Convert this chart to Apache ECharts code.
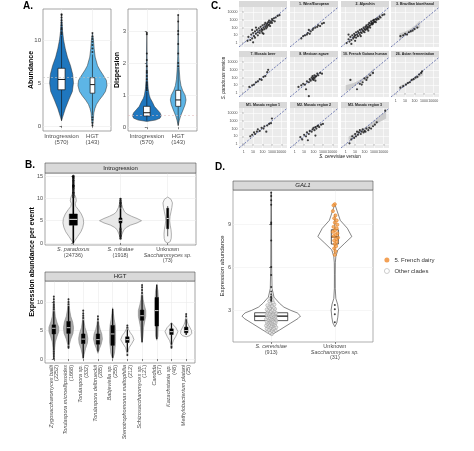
<!DOCTYPE html>
<html>
<head>
<meta charset="utf-8">
<script src="https://cdn.jsdelivr.net/npm/echarts@6.0.0/dist/echarts.min.js"></script>
<style>html,body{margin:0;padding:0;background:#ffffff;}#chart{width:474px;height:451px;}</style>
</head>
<body>
<div id="chart"></div>
<script>
// ================= DATA =================
// ---- Panel A ----
const aCats = ['Introgression\n(570)', 'HGT\n(143)'];
const aAbIntroY = [0.6, 1, 2, 3, 4, 5, 6, 7, 8, 9, 10, 11, 12, 13];
const aAbIntroW = [0, 0.033, 0.12, 0.23, 0.35, 0.385, 0.36, 0.29, 0.19, 0.12, 0.066, 0.033, 0.017, 0];
const aAbIntroBox = [0.6, 4.2, 5.4, 6.7, 10.5];
const aAbIntroOut = [10.7, 10.9, 11.2, 11.4, 11.7, 12.0, 12.3, 12.6, 12.9, 13.0];
const aAbHgtY = [0, 0.5, 1.5, 2, 2.5, 3, 3.5, 4, 4.7, 5.3, 6, 6.5, 7, 8, 9, 10, 10.8];
const aAbHgtW = [0, 0.022, 0.044, 0.077, 0.13, 0.22, 0.33, 0.42, 0.47, 0.45, 0.33, 0.24, 0.165, 0.088, 0.055, 0.033, 0];
const aAbHgtBox = [1.2, 3.8, 4.8, 5.6, 8.3];
const aAbHgtOut = [0.05, 0.35, 0.7, 1.0, 8.6, 9.0, 9.4, 9.8, 10.1, 10.4, 10.8];
const aAbRef = 5.7;
const aAbTicks = [0, 5, 10];
const aDiIntroY = [0.18, 0.22, 0.28, 0.36, 0.45, 0.55, 0.65, 0.78, 0.9, 1.0, 1.2, 1.5, 2.0, 2.95];
const aDiIntroW = [0, 0.275, 0.42, 0.46, 0.42, 0.33, 0.24, 0.18, 0.11, 0.077, 0.044, 0.022, 0.011, 0];
const aDiIntroBox = [0.2, 0.35, 0.45, 0.65, 1.1];
const aDiIntroOut = [1.15, 1.2, 1.25, 1.3, 1.35, 1.4, 1.5, 1.6, 1.7, 1.75, 1.9, 2.1, 2.3, 2.9, 2.95];
const aDiHgtY = [0.05, 0.2, 0.35, 0.5, 0.7, 0.85, 1.0, 1.15, 1.3, 1.5, 1.8, 2.2, 3.5];
const aDiHgtW = [0, 0.033, 0.077, 0.14, 0.22, 0.25, 0.22, 0.14, 0.088, 0.055, 0.033, 0.017, 0];
const aDiHgtBox = [0.05, 0.65, 0.85, 1.15, 1.85];
const aDiHgtOut = [1.9, 2.0, 2.3, 2.6, 2.9, 3.0, 3.3, 3.5];
const aDiRef = 0.37;
const aDiTicks = [0, 1, 2, 3];

// ---- Panel B (Introgression facet) ----
const bCats = ['{i|S. paradoxus}\n(24736)', '{i|S. mikatae}\n(1918)', 'Unknown\n{i|Saccharomyces sp.}\n(73)'];
const bParY = [0, 0.5, 1.5, 2.5, 3.5, 4.5, 5.5, 6.5, 7.5, 8.2, 8.8, 9.5, 10.2, 11, 12, 13.5, 15];
const bParW = [0, 0.032, 0.095, 0.16, 0.2, 0.22, 0.21, 0.17, 0.106, 0.053, 0.042, 0.064, 0.053, 0.021, 0.013, 0.008, 0];
const bParBox = [0, 4.0, 5.3, 6.5, 10.2];
const bParOut = [10.3, 10.7, 11.1, 11.4, 11.9, 12.3, 12.6, 12.8, 12.95, 13.3, 13.7, 14.1, 14.5, 14.8, 15.0];
const bMikY = [1, 2, 3, 3.5, 4, 4.5, 5, 5.5, 6, 6.5, 7, 8, 9, 10];
const bMikW = [0, 0.032, 0.074, 0.127, 0.21, 0.35, 0.445, 0.35, 0.233, 0.138, 0.085, 0.042, 0.016, 0];
const bMikBox = [3.3, 4.5, 5.1, 5.6, 7.8];
const bMikOut = [1.0, 1.4, 1.7, 2.0, 2.3, 2.6, 2.9, 3.2, 8.1, 8.4, 8.8, 9.1, 9.5, 9.9];
const bUnkY = [0, 0.3, 1, 2, 3, 4, 5, 6, 7, 8, 9, 9.8, 10.3];
const bUnkW = [0, 0.053, 0.074, 0.078, 0.07, 0.053, 0.042, 0.05, 0.07, 0.089, 0.1, 0.07, 0];
const bUnkBox = [1.5, 3.2, 5.5, 7.8, 8.3];
const bTicks = [0, 5, 10, 15];

// ---- Panel B (HGT facet) ----
const hCats = [
  '{i|Zygosaccharomyces bailii}\n(2252)', '{i|Torulaspora microellipsoides}\n(1668)', '{i|Torulaspora sp.}\n(332)',
  '{i|Torulaspora delbrueckii}\n(285)', '{i|Babjeviella sp.}\n(255)', '{i|Stenotrophomonas maltophilia}\n(212)',
  '{i|Schizosaccharomyces sp.}\n(121)', '{i|Candida}\n(57)', '{i|Kazachstania sp.}\n(48)', '{i|Methylobacterium platani}\n(25)'
];
const hY = [
  [0, 1, 2, 3, 4, 4.8, 5.6, 6.5, 7.5, 8.5, 9.5, 11],
  [1.8, 2.5, 3.5, 4.5, 5.5, 6.5, 7.5, 8.5, 9.5, 10.6],
  [0, 0.8, 1.8, 2.8, 3.6, 4.5, 5.5, 6.5, 7.5, 8.6],
  [1, 1.8, 2.6, 3.5, 4.4, 5.2, 6, 7.5],
  [0, 1, 2, 3, 4, 5, 6, 7, 8, 9],
  [0.5, 1.2, 2, 2.7, 3.4, 4.1, 4.7, 5.3, 6],
  [2.8, 4, 5.5, 6.5, 7.5, 8.5, 9.5, 10.5, 11.5, 13],
  [3.3, 4, 6, 8, 10, 12, 13],
  [1.9, 2.5, 3.2, 4, 4.8, 5.5, 6, 6.4],
  [3.9, 4.1, 4.5, 5, 5.5, 6, 6.5, 7.2, 7.9]
];
const hW = [
  [0, 0.04, 0.06, 0.1, 0.22, 0.33, 0.33, 0.2, 0.1, 0.06, 0.04, 0],
  [0, 0.05, 0.15, 0.3, 0.34, 0.28, 0.15, 0.08, 0.04, 0],
  [0, 0.06, 0.15, 0.28, 0.31, 0.25, 0.12, 0.06, 0.03, 0],
  [0, 0.1, 0.22, 0.3, 0.26, 0.15, 0.07, 0],
  [0, 0.12, 0.16, 0.2, 0.2, 0.2, 0.17, 0.1, 0.05, 0],
  [0, 0.04, 0.12, 0.3, 0.45, 0.35, 0.18, 0.06, 0],
  [0, 0.06, 0.1, 0.17, 0.25, 0.25, 0.15, 0.07, 0.04, 0],
  [0, 0.08, 0.1, 0.12, 0.12, 0.08, 0],
  [0, 0.04, 0.12, 0.3, 0.44, 0.3, 0.12, 0],
  [0, 0.25, 0.38, 0.36, 0.26, 0.15, 0.08, 0.04, 0]
];
const hBox = [
  [1.5, 4.4, 5.4, 6.0, 8.4], [2.5, 4.5, 5.5, 6.6, 9.3], [0.2, 2.7, 3.5, 4.4, 6.8], [1.3, 2.6, 3.4, 4.4, 6.6],
  [0.2, 2.4, 4.4, 5.9, 8.8], [1.2, 2.9, 3.4, 3.9, 5.2], [3.0, 6.8, 7.6, 8.6, 11.2], [3.5, 5.8, 8.5, 10.8, 13.1],
  [2.5, 4.3, 4.8, 5.3, 6.3], [4.2, 4.6, 5.0, 5.6, 7.0]
];
const hOut = [
  [0.1, 0.4, 0.7, 1.0, 1.3, 8.7, 9.0, 9.3, 9.6, 10.0, 10.5, 11.0],
  [2.0, 2.2, 9.6, 10.0, 10.5],
  [7.2, 7.6, 8.0, 8.5],
  [7.0, 7.5],
  [],
  [0.7, 5.5, 5.9],
  [11.6, 12.1, 12.6, 13.0],
  [],
  [2.0, 2.2],
  [7.5, 7.9]
];
const hTicks = [0, 5, 10];

// ---- Panel C ----
const cTitles = ['', '1. Wine/European', '2. Alpechin', '3. Brazilian bioethanol', '7. Mosaic beer', '8. Mexican agave',
  '10. French Guiana human', '26. Asian fermentation', 'M1. Mosaic region 1', 'M2. Mosaic region 2', 'M3. Mosaic region 3'];
const cTickExp = [0, 1, 2, 3, 4];          // log10 of tick values
const cTickLabels = ['1', '10', '100', '1000', '10000'];
// points as [log10 S. cerevisiae version, log10 S. paradoxus version]
const cAll = [[0.4,0.3],[0.5,0.8],[0.7,0.4],[0.8,1.1],[0.9,0.6],[1.0,1.3],[1.1,0.9],[1.2,1.5],[1.2,0.7],[1.3,1.2],[1.3,2.0],[1.4,1.7],[1.5,1.0],[1.5,1.4],[1.6,1.9],[1.7,1.3],[1.7,1.6],[1.8,2.1],[1.9,1.5],[1.9,1.8],[2.0,2.3],[2.0,1.7],[2.1,2.0],[2.1,1.2],[2.2,2.4],[2.2,1.8],[2.3,2.1],[2.3,2.6],[2.4,2.3],[2.4,1.9],[2.5,2.5],[2.5,2.1],[2.6,2.7],[2.6,2.3],[2.7,2.9],[2.7,2.4],[2.8,2.6],[2.8,2.2],[2.9,2.8],[3.0,3.1],[3.0,2.6],[3.1,2.9],[3.2,3.2],[3.3,2.8],[3.4,3.3],[3.6,3.5],[3.8,3.6],[0.9,1.7],[1.0,0.1],[2.0,1.3]];
const cWine = [[0.7,0.6],[0.9,0.9],[1.1,1.0],[1.3,1.1],[1.4,1.3],[1.5,1.7],[1.7,1.5],[1.9,1.7],[2.0,1.9],[2.2,2.0],[2.4,2.1],[2.5,2.3],[2.7,2.2],[2.9,2.5],[3.1,2.6],[1.6,1.2]];
const cAlpechin = [[0.1,0.0],[0.3,0.5],[0.4,0.2],[0.5,0.8],[0.6,0.4],[0.7,1.0],[0.8,0.6],[0.9,1.2],[0.9,0.8],[1.0,1.0],[1.1,1.4],[1.1,0.7],[1.2,1.1],[1.3,1.5],[1.3,0.9],[1.4,1.3],[1.5,1.7],[1.5,1.1],[1.6,1.4],[1.7,1.8],[1.7,1.3],[1.8,1.6],[1.9,2.0],[1.9,1.5],[2.0,1.8],[2.0,1.4],[2.1,2.1],[2.1,1.7],[2.2,1.9],[2.2,2.3],[2.3,1.8],[2.3,2.1],[2.4,2.4],[2.4,2.0],[2.5,2.2],[2.5,2.6],[2.6,2.3],[2.6,2.0],[2.7,2.5],[2.7,2.8],[2.8,2.4],[2.8,2.6],[2.9,2.9],[2.9,2.5],[3.0,2.7],[3.0,3.0],[3.1,2.8],[3.2,3.1],[3.2,2.7],[3.3,3.0],[3.4,3.2],[3.5,3.1],[3.6,3.4],[3.7,3.3],[3.9,3.6],[4.1,3.7],[0.6,-0.1],[1.0,0.3],[1.6,0.9],[0.3,1.1],[2.4,1.6]];
const cBrazil = [[0.5,0.9],[0.8,1.0],[1.0,1.2],[1.2,1.1],[1.4,1.4],[1.6,1.5],[1.8,1.6],[2.0,1.8],[2.3,2.0]];
const cBeer = [[0.6,0.8],[0.9,1.0],[1.1,1.1],[1.3,1.4],[1.5,1.5],[1.7,1.8],[1.9,1.7],[2.1,2.1],[2.3,2.2],[2.5,2.7],[2.6,3.0]];
const cAgave = [[0.4,0.8],[0.7,1.0],[0.9,1.2],[1.1,1.1],[1.3,1.5],[1.5,1.4],[1.6,1.8],[1.7,1.6],[1.8,2.0],[1.9,1.8],[1.9,2.2],[2.0,1.7],[2.0,2.0],[2.1,2.3],[2.1,1.9],[2.2,2.1],[2.2,1.6],[2.3,2.2],[2.4,2.5],[2.5,2.3],[2.7,2.6],[2.9,2.5],[1.5,-0.4],[1.2,0.5]];
const cGuiana = [[0.5,1.7],[1.2,0.5],[1.5,1.2],[1.8,1.4],[2.0,1.9],[2.3,2.0],[2.6,2.3],[2.9,2.6],[1.7,1.1],[2.2,1.7]];
const cAsian = [[0.5,0.7],[0.8,0.9],[1.1,1.1],[1.3,1.3],[1.5,1.4],[1.7,1.7],[1.9,1.8],[2.1,2.0],[2.3,2.1],[2.5,2.4],[2.7,2.6],[2.8,2.8]];
const cM1 = [[0.7,1.0],[0.9,1.2],[1.1,1.5],[1.2,1.3],[1.4,1.6],[1.5,1.9],[1.7,1.7],[1.9,2.1],[2.1,2.0],[2.2,2.3],[2.4,1.6],[2.5,2.4],[2.7,2.6],[2.9,2.7],[3.0,3.3]];
const cM2 = [[0.6,0.9],[0.8,0.6],[1.0,1.2],[1.2,1.0],[1.3,1.5],[1.5,1.3],[1.6,1.7],[1.8,1.6],[1.9,1.9],[2.0,2.1],[2.1,1.8],[2.2,2.2],[2.3,2.0],[2.4,2.3],[2.5,2.4],[2.6,2.2],[2.8,2.5],[3.0,2.6],[1.4,0.5],[2.2,1.1]];
const cM3 = [[0.4,0.1],[0.6,0.6],[0.7,1.0],[0.9,0.8],[1.0,1.3],[1.1,1.0],[1.2,1.6],[1.3,1.2],[1.4,1.5],[1.5,1.8],[1.6,1.3],[1.7,1.6],[1.8,1.9],[1.9,1.5],[2.0,1.7],[2.1,1.6],[2.2,2.0],[2.4,1.8],[2.5,2.1],[2.7,2.0],[2.9,2.3],[3.1,2.5],[3.3,2.8],[4.2,4.3]];
// smoothing confidence bands [x, lower, upper]
const cBrazilBX = [0.4, 1.0, 1.5, 2.0, 2.6], cBrazilLo = [0.35, 1.0, 1.42, 1.75, 2.0], cBrazilHi = [1.25, 1.5, 1.78, 2.25, 2.9];
const cGuianaBX = [0.0, 0.9, 2.0, 3.0], cGuianaLo = [0.2, 0.85, 1.65, 2.5], cGuianaHi = [1.0, 1.35, 2.0, 3.2];
const cAsianBX = [0.4, 1.5, 2.9], cAsianLo = [0.5, 1.35, 2.3], cAsianHi = [0.9, 1.6, 2.9];
const cM3BX = [0.3, 1.5, 2.5, 4.3], cM3Lo = [0.5, 1.5, 2.1, 3.3], cM3Hi = [0.95, 1.75, 2.5, 4.3];

// ---- Panel D ----
const dCats = ['{i|S. cerevisiae}\n(913)', 'Unknown\n{i|Saccharomyces sp.}\n(31)'];
const dCerY = [1.26, 1.6, 2.07, 2.4, 2.58, 2.8, 2.97, 3.2, 3.47, 3.9, 4.5, 6, 9, 11.2];
const dCerW = [0, 0.13, 0.3, 0.42, 0.46, 0.41, 0.31, 0.2, 0.13, 0.044, 0.014, 0.007, 0.005, 0];
const dCerBox = [1.5, 2.26, 2.58, 2.81, 3.6];
const dCerOut = [11.2, 10.95, 10.65, 10.35, 9.1, 9.0, 7.85, 6.0, 5.45, 4.6, 4.3, 4.1, 3.95, 3.85, 3.75, 3.65];
const dUnkY = [1.84, 2.1, 2.5, 3.0, 3.4, 3.8, 4.5, 5.5, 6.3, 6.72, 7.19, 7.66, 8.12, 8.7, 9.25, 9.97, 10.38];
const dUnkW = [0, 0.031, 0.047, 0.058, 0.044, 0.016, 0.007, 0.006, 0.008, 0.016, 0.047, 0.157, 0.267, 0.197, 0.086, 0.031, 0];
const dUnkBox = [6.9, 7.6, 8.1, 8.6, 9.7];
const dUnkOut = [3.35, 3.05, 2.7, 2.15];
// Other clades jitter points in S. cerevisiae: values and horizontal jitter (category units)
const dOtherY = [1.32,1.42,1.48,1.51,1.55,1.58,1.62,1.66,1.7,1.73,1.77,1.8,1.84,1.87,1.9,1.91,1.94,1.97,2.01,2.04,2.05,2.07,2.1,2.13,2.15,2.16,2.19,2.22,2.25,2.28,2.3,2.31,2.34,2.35,2.37,2.4,2.43,2.45,2.46,2.49,2.5,2.52,2.55,2.58,2.6,2.61,2.64,2.67,2.7,2.73,2.75,2.76,2.79,2.82,2.85,2.88,2.9,2.92,2.96,3.0,3.04,3.08,3.12,3.17,3.22,3.27,3.33,3.39,3.46,3.53,3.61,3.7,3.8,3.92];
const dOtherJ = [0.01,-0.02,0.04,-0.06,0.01,0.07,-0.04,0.03,-0.07,0.05,-0.01,0.08,-0.05,0.02,0.0,-0.08,0.06,-0.03,0.04,-0.06,0.02,0.0,0.07,-0.04,-0.01,0.05,-0.07,0.02,-0.02,0.08,-0.02,-0.05,0.03,0.0,-0.08,0.06,-0.01,-0.03,0.05,-0.06,0.03,0.01,0.07,-0.03,0.0,0.04,-0.07,0.02,-0.04,0.06,0.03,-0.02,0.08,-0.06,0.03,-0.01,0.0,0.05,-0.05,0.02,-0.07,0.06,-0.02,0.04,-0.04,0.01,-0.06,0.05,-0.01,0.03,-0.03,0.02,-0.01,0.01];
// 5. French dairy jitter points in Unknown Saccharomyces sp.
const dFrenchY = [10.38,10.3,9.9,9.6,9.4,9.25,9.1,8.95,8.8,8.7,8.55,8.45,8.35,8.25,8.15,8.05,7.95,7.85,7.75,7.6,7.45,7.3,7.1,6.85];
const dFrenchJ = [0.0,-0.02,-0.03,0.01,-0.01,0.03,0.0,0.04,-0.02,0.03,0.0,-0.03,0.04,0.01,-0.02,0.05,0.02,-0.01,0.03,0.0,0.02,-0.01,0.01,0.0];
const dTicks = [3, 6, 9];

// ================= BUILD =================
const FONT = '"Liberation Sans", Arial, Helvetica, sans-serif';
const TXT = '#4d4d4d';
const grids = [], xAxes = [], yAxes = [], series = [], graphics = [];

function addGrid(g) {
  grids.push(Object.assign({show: true, borderColor: '#808080', borderWidth: 0.7, backgroundColor: 'transparent', outerBoundsMode: 'none'}, g));
  return grids.length - 1;
}
function catXAxis(gi, cats, fs, extraLabel) {
  const idx = cats.map((c, i) => i);
  return {
    type: 'value', gridIndex: gi, min: -0.6, max: cats.length - 0.4, splitNumber: cats.length,
    axisLine: {show: false},
    axisTick: {show: true, length: 2, customValues: idx, lineStyle: {color: '#333', width: 0.6}},
    axisLabel: Object.assign({customValues: idx, formatter: v => cats[Math.round(v)], fontSize: fs, lineHeight: fs, color: TXT, fontFamily: FONT, margin: 2,
      rich: {i: {fontStyle: 'italic', fontSize: fs, lineHeight: fs, color: TXT, fontFamily: FONT}}}, extraLabel || {}),
    splitLine: {show: true, lineStyle: {color: '#ebebeb', width: 0.6}}
  };
}
function valYAxis(gi, min, max, ticks, fs) {
  return {
    type: 'value', gridIndex: gi, min: min, max: max, splitNumber: 3,
    axisLine: {show: false},
    axisTick: {show: true, length: 2, customValues: ticks, lineStyle: {color: '#333', width: 0.6}},
    axisLabel: {customValues: ticks, fontSize: fs, color: TXT, fontFamily: FONT, margin: 2},
    splitLine: {show: true, lineStyle: {color: '#ebebeb', width: 0.6}}
  };
}
function violins(gi, defs) {
  series.push({
    type: 'custom', xAxisIndex: gi, yAxisIndex: gi, z: 2, silent: true,
    data: defs.map(d => [d.cat, d.ys[0], d.ys[d.ys.length - 1]]),
    renderItem: function (params, api) {
      const d = defs[params.dataIndex];
      const unit = api.size([1, 0])[0];
      const L = [], R = [];
      for (let i = 0; i < d.ys.length; i++) {
        const p = api.coord([d.cat, d.ys[i]]);
        R.push([p[0] + d.ws[i] * unit, p[1]]);
        L.push([p[0] - d.ws[i] * unit, p[1]]);
      }
      const st = d.st;
      const kids = [{type: 'polygon', shape: {points: R.concat(L.reverse())}, style: {fill: st.fill, stroke: st.stroke, lineWidth: st.lw}}];
      if (d.box) {
        const yy = d.box.map(v => api.coord([d.cat, v])[1]);
        const x = api.coord([d.cat, d.box[2]])[0];
        const hw = d.bw * unit / 2;
        kids.push({type: 'line', shape: {x1: x, y1: yy[0], x2: x, y2: yy[1]}, style: {stroke: st.wk, lineWidth: st.wlw}});
        kids.push({type: 'line', shape: {x1: x, y1: yy[3], x2: x, y2: yy[4]}, style: {stroke: st.wk, lineWidth: st.wlw}});
        kids.push({type: 'rect', shape: {x: x - hw, y: yy[3], width: 2 * hw, height: yy[1] - yy[3]}, style: {fill: st.bf, stroke: st.bs, lineWidth: st.blw}});
        kids.push({type: 'line', shape: {x1: x - hw, y1: yy[2], x2: x + hw, y2: yy[2]}, style: {stroke: st.med, lineWidth: st.mlw}});
      }
      return {type: 'group', children: kids};
    }
  });
}
function outliers(gi, cat, ys, size, color, z) {
  if (!ys.length) return;
  series.push({type: 'scatter', xAxisIndex: gi, yAxisIndex: gi, z: z || 4, silent: true, symbolSize: size,
    itemStyle: {color: color}, data: ys.map(y => [cat, y])});
}
function refLine(gi, y, color) {
  series.push({type: 'line', xAxisIndex: gi, yAxisIndex: gi, z: 1, silent: true, data: [],
    markLine: {silent: true, symbol: 'none', label: {show: false}, animation: false,
      lineStyle: {color: color, width: 0.6, type: [2, 2]}, data: [{yAxis: y}]}});
}
function txt(text, x, y, s, rot) {
  return {type: 'text', x: x, y: y, rotation: rot || 0, silent: true, z: 10,
    style: Object.assign({text: text, fontFamily: FONT, fontSize: 6, fill: '#1a1a1a', align: 'center', verticalAlign: 'middle'}, s || {})};
}
function box(x, y, w, h, fill, stroke, lw) {
  return {type: 'rect', silent: true, z: 9, shape: {x: x, y: y, width: w, height: h}, style: {fill: fill, stroke: stroke || null, lineWidth: lw || 0}};
}

// ---- Panel A left: Abundance ----
const stA = (fill) => ({fill: fill, stroke: '#2a2a2a', lw: 0.5, wk: '#111', wlw: 0.6, bf: '#ffffff', bs: '#111', blw: 0.7, med: '#111', mlw: 1});
let g = addGrid({left: 43, top: 9, width: 68, height: 122});
xAxes.push(catXAxis(g, aCats, 6));
yAxes.push(valYAxis(g, -0.6, 13.6, aAbTicks, 6));
refLine(g, aAbRef, '#bdbdbd');
violins(g, [
  {cat: 0, ys: aAbIntroY, ws: aAbIntroW, box: aAbIntroBox, bw: 0.23, st: stA('#1f77bf')},
  {cat: 1, ys: aAbHgtY, ws: aAbHgtW, box: aAbHgtBox, bw: 0.15, st: stA('#5db5e6')}
]);
outliers(g, 0, aAbIntroOut, 2, '#111');
outliers(g, 1, aAbHgtOut, 2, '#111');

// ---- Panel A right: Dispersion ----
g = addGrid({left: 128, top: 9, width: 69, height: 122});
xAxes.push(catXAxis(g, aCats, 6));
yAxes.push(valYAxis(g, -0.12, 3.69, aDiTicks, 6));
refLine(g, aDiRef, '#e0bcbc');
violins(g, [
  {cat: 0, ys: aDiIntroY, ws: aDiIntroW, box: aDiIntroBox, bw: 0.21, st: stA('#1f77bf')},
  {cat: 1, ys: aDiHgtY, ws: aDiHgtW, box: aDiHgtBox, bw: 0.16, st: stA('#5db5e6')}
]);
outliers(g, 0, aDiIntroOut, 2, '#111');
outliers(g, 1, aDiHgtOut, 2, '#111');

// ---- Panel B top: Introgression ----
const stB = (fill) => ({fill: fill, stroke: '#8c8c8c', lw: 0.7, wk: '#000', wlw: 1.6, bf: '#000', bs: '#000', blw: 0.5, med: '#ffffff', mlw: 0.9});
g = addGrid({left: 45, top: 173, width: 151, height: 72});
xAxes.push(catXAxis(g, bCats, 5.5));
yAxes.push(valYAxis(g, -0.45, 15.7, bTicks, 5.5));
violins(g, [
  {cat: 0, ys: bParY, ws: bParW, box: bParBox, bw: 0.17, st: stB('#ececec')},
  {cat: 1, ys: bMikY, ws: bMikW, box: bMikBox, bw: 0.064, st: stB('#e8e8e8')},
  {cat: 2, ys: bUnkY, ws: bUnkW, box: bUnkBox, bw: 0.042, st: Object.assign(stB('#f7f7f7'), {wlw: 0.6})}
]);
outliers(g, 0, bParOut, 2.6, '#000');
outliers(g, 1, bMikOut, 2.4, '#000');

// ---- Panel B bottom: HGT ----
g = addGrid({left: 45, top: 281, width: 150, height: 82});
xAxes.push(catXAxis(g, hCats, 5.5, {rotate: 90}));
yAxes.push(valYAxis(g, -0.7, 13.7, hTicks, 5.5));
const hFill = ['#a9a9a9', '#a9a9a9', '#b3b3b3', '#b3b3b3', '#b3b3b3', '#f7f7f7', '#ababab', '#ababab', '#f7f7f7', '#f7f7f7'];
violins(g, hY.map((ys, i) => ({cat: i, ys: ys, ws: hW[i], box: hBox[i], bw: 0.24,
  st: {fill: hFill[i], stroke: '#8c8c8c', lw: 0.7, wk: '#111', wlw: 1.3, bf: '#000', bs: '#000', blw: 0.5, med: '#ffffff', mlw: 0.8}})));
hOut.forEach((o, i) => outliers(g, i, o, 2, '#111'));

// ---- Panel D: GAL1 ----
g = addGrid({left: 233, top: 190, width: 140, height: 152, borderColor: '#8c8c8c'});
xAxes.push(catXAxis(g, dCats, 5.5));
yAxes.push(valYAxis(g, 0.77, 11.37, dTicks, 5.5));
yAxes[yAxes.length - 1].splitLine.lineStyle.color = '#f0f0f0';
xAxes[xAxes.length - 1].splitLine.lineStyle.color = '#f0f0f0';
const stD = {fill: '#ffffff', stroke: '#333', lw: 0.6, wk: '#111', wlw: 0.6, bf: '#ffffff', bs: '#111', blw: 0.7, med: '#111', mlw: 1.2};
violins(g, [
  {cat: 0, ys: dCerY, ws: dCerW, box: dCerBox, bw: 0.52, st: stD},
  {cat: 1, ys: dUnkY, ws: dUnkW, box: dUnkBox, bw: 0.11, st: stD}
]);
series.push({name: 'Other clades', type: 'scatter', xAxisIndex: g, yAxisIndex: g, z: 3, silent: true, symbolSize: 3.2,
  itemStyle: {color: '#e2e2e2', borderColor: '#8a8a8a', borderWidth: 0.5},
  data: dOtherY.map((y, i) => [0 + dOtherJ[i], y])});
series.push({name: '5. French dairy', type: 'scatter', xAxisIndex: g, yAxisIndex: g, z: 4, silent: true, symbolSize: 3.2,
  itemStyle: {color: '#f6a04d', borderColor: '#e07a18', borderWidth: 0.6},
  data: dFrenchY.map((y, i) => [1 + dFrenchJ[i], y])});
outliers(g, 0, dCerOut, 2, '#111', 5);
outliers(g, 1, dUnkOut, 2, '#111', 5);

// ---- Panel C: facets ----
const cLefts = [239, 290, 341, 391], cTops = [7, 57, 108], cW = 48, cH = 40;
const cPts = [cAll, cWine, cAlpechin, cBrazil, cBeer, cAgave, cGuiana, cAsian, cM1, cM2, cM3];
const cBands = {3: [cBrazilBX, cBrazilLo, cBrazilHi], 6: [cGuianaBX, cGuianaLo, cGuianaHi], 7: [cAsianBX, cAsianLo, cAsianHi], 10: [cM3BX, cM3Lo, cM3Hi]};
function logAxis(gi, min, max, show) {
  return {type: 'value', gridIndex: gi, min: min, max: max, splitNumber: 5,
    axisLine: {show: false},
    axisTick: {show: show, length: 1.5, customValues: cTickExp, lineStyle: {color: '#333', width: 0.4}},
    axisLabel: {show: show, customValues: cTickExp, formatter: v => cTickLabels[cTickExp.indexOf(Math.round(v))],
      fontSize: 3.6, color: TXT, fontFamily: FONT, margin: 1.5},
    splitLine: {show: true, lineStyle: {color: '#ffffff', width: 0.6}}};
}
cPts.forEach((pts, i) => {
  const col = i % 4, row = Math.floor(i / 4);
  const gi = addGrid({left: cLefts[col], top: cTops[row], width: cW, height: cH, backgroundColor: '#ebebeb', borderWidth: 0});
  const showY = col === 0, showX = row === 2 || (row === 1 && col === 3);
  xAxes.push(logAxis(gi, -0.5, 4.6, showX));
  yAxes.push(logAxis(gi, -0.5, 4.65, showY));
  const bd = cBands[i];
  if (bd) {
    series.push({type: 'custom', xAxisIndex: gi, yAxisIndex: gi, z: 2, silent: true, data: [[bd[0][0], bd[1][0]]],
      renderItem: function (p, api) {
        const up = bd[0].map((x, k) => api.coord([x, bd[2][k]]));
        const dn = bd[0].map((x, k) => api.coord([x, bd[1][k]])).reverse();
        return {type: 'polygon', shape: {points: up.concat(dn)}, style: {fill: '#c6c6c6', opacity: 0.85}};
      }});
  }
  series.push({type: 'line', xAxisIndex: gi, yAxisIndex: gi, z: 3, silent: true, symbol: 'none',
    lineStyle: {color: '#3b4a9a', width: 0.7, type: [2, 1.5]}, data: [[-0.5, -0.5], [4.6, 4.6]]});
  series.push({type: 'scatter', xAxisIndex: gi, yAxisIndex: gi, z: 4, silent: true, symbolSize: 2.2,
    itemStyle: {color: '#111'}, data: pts});
  graphics.push(box(cLefts[col], cTops[row] - 6, cW, 6, '#d9d9d9'));
  if (cTitles[i]) graphics.push(txt(cTitles[i], cLefts[col] + cW / 2, cTops[row] - 3, {fontSize: 3.6, fontWeight: 'bold', fill: '#1a1a1a'}));
});

// ---- Text / strips ----
graphics.push(txt('A.', 23, 6, {fontSize: 10, fontWeight: 'bold', align: 'left', fill: '#000'}));
graphics.push(txt('Abundance', 31, 70, {fontSize: 7, fontWeight: 'bold', fill: '#000'}, Math.PI / 2));
graphics.push(txt('Dispersion', 117, 70, {fontSize: 7, fontWeight: 'bold', fill: '#000'}, Math.PI / 2));
graphics.push(txt('B.', 25, 165, {fontSize: 10, fontWeight: 'bold', align: 'left', fill: '#000'}));
graphics.push(box(45, 163, 151, 10, '#d9d9d9', '#4d4d4d', 0.6));
graphics.push(txt('Introgression', 120.5, 168, {fontSize: 6, fill: '#1a1a1a'}));
graphics.push(box(45, 272, 150, 9, '#d9d9d9', '#4d4d4d', 0.6));
graphics.push(txt('HGT', 120, 276.5, {fontSize: 6, fill: '#1a1a1a'}));
graphics.push(txt('Expression abundance per event', 32, 262, {fontSize: 7, fontWeight: 'bold', fill: '#000'}, Math.PI / 2));
graphics.push(txt('C.', 211, 6, {fontSize: 10, fontWeight: 'bold', align: 'left', fill: '#000'}));
graphics.push(txt('{i|S. paradoxus} version', 224, 78, {fontSize: 4.5, fill: '#1a1a1a', rich: {i: {fontStyle: 'italic', fontSize: 4.5, fontFamily: FONT, fill: '#1a1a1a'}}}, Math.PI / 2));
graphics.push(txt('{i|S. cerevisiae} version', 340, 157, {fontSize: 4.5, fill: '#1a1a1a', rich: {i: {fontStyle: 'italic', fontSize: 4.5, fontFamily: FONT, fill: '#1a1a1a'}}}));
graphics.push(txt('D.', 215, 167, {fontSize: 10, fontWeight: 'bold', align: 'left', fill: '#000'}));
graphics.push(box(233, 181, 140, 9, '#d9d9d9', '#4d4d4d', 0.6));
graphics.push(txt('GAL1', 303, 185.5, {fontSize: 6, fontStyle: 'italic', fill: '#1a1a1a'}));
graphics.push(txt('Expression abundance', 222, 266, {fontSize: 6, fill: '#1a1a1a'}, Math.PI / 2));

const chart = echarts.init(document.getElementById('chart'), null, {renderer: 'canvas', width: 474, height: 451});
chart.setOption({
  animation: false,
  backgroundColor: '#ffffff',
  textStyle: {fontFamily: FONT},
  grid: grids,
  xAxis: xAxes,
  yAxis: yAxes,
  series: series,
  graphic: {elements: graphics},
  legend: {
    left: 379, top: 252, orient: 'vertical', itemWidth: 5, itemHeight: 5, itemGap: 5, icon: 'circle',
    textStyle: {fontSize: 6, color: '#333', fontFamily: FONT},
    data: [
      {name: '5. French dairy', itemStyle: {color: '#f08a2c', borderWidth: 0}},
      {name: 'Other clades', itemStyle: {color: '#ffffff', borderColor: '#b0b0b0', borderWidth: 0.8}}
    ]
  }
});
</script>
</body>
</html>
